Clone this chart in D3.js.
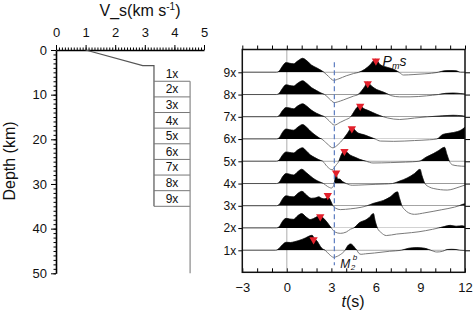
<!DOCTYPE html>
<html><head><meta charset="utf-8">
<script src="https://cdn.jsdelivr.net/npm/d3@7"></script>
<style>body{margin:0;background:#fff}svg{display:block}text{font-family:"Liberation Sans",Arial,sans-serif;fill:#111}</style>
</head><body><svg id="c" width="474" height="327"></svg>
<script>
// ---------- data ----------
const vsTicks = [0,1,2,3,4,5];
const depthTicks = [0,10,20,30,40,50];
const profileVs = [1.0, 2.93, 3.31, 3.31];
const profileDepth = [0, 3.5, 3.5, 35];
const mohoDepths = [7,10.5,14,17.5,21,24.5,28,31.5,35];
const boxLabels = ["1x","2x","3x","4x","5x","6x","7x","8x","9x"];
const mantleVs = 4.53;
const maxDepth = 50;

const tTicks = [-3,0,3,6,9,12];
const traceLabels = ["1x","2x","3x","4x","5x","6x","7x","8x","9x"];
const markerT   = [1.8,2.25,2.76,3.32,3.88,4.38,4.94,5.45,6.0];
const markerAmp = [10.7,11.3,10.3,10.6,10.0,10.4,10.7,11.0,11.3];
const dashT = 3.2;

// waveform samples [t (s), amplitude]
const trace1x = [[-3,0],[-0.75,0],[-0.55,1.5],[-0.3,5.5],[-0.05,8],[0.25,7.8],[0.5,8.5],[0.8,9.7],[1.25,12.3],[1.55,14.5],[1.7,15],[1.85,12],[2.05,9],[2.25,4],[2.4,1.5],[2.58,0],[2.85,-4],[3.15,-7],[3.4,-6],[3.6,-4.3],[3.92,0],[4.1,4.5],[4.3,6.3],[4.5,4],[4.62,1.7],[4.72,0],[4.85,-3],[5.0,-4],[5.3,-3.5],[5.9,-2.7],[6.9,-1],[7.7,0],[8.2,2],[8.75,2.7],[9.3,2],[9.7,0],[10.1,-1.7],[10.5,-1],[10.8,0.8],[11.1,1],[11.4,0.8],[11.65,0],[12,-0.3]];
const trace2x = [[-3,0],[-0.7,0],[-0.5,1.5],[-0.3,6.5],[-0.05,9.7],[0.2,9],[0.45,8.7],[0.75,12.5],[1.0,14.5],[1.3,11],[1.57,8.5],[1.8,9.5],[2.05,11.5],[2.25,12.5],[2.45,10],[2.7,6],[2.85,3],[3.0,0],[3.25,-4],[3.6,-5.3],[4.0,-4],[4.3,-1],[4.5,0],[4.9,5.5],[5.3,8],[5.55,10.5],[5.83,14.5],[5.95,7],[6.1,0],[6.35,-4.5],[6.7,-7.5],[7.4,-6],[7.9,-5.3],[8.9,-3.7],[9.8,-1.3],[10.2,0],[10.6,1.5],[11.0,2.7],[11.4,1.8],[11.8,2.3],[12,1.5]];
const trace3x = [[-3,0],[-0.7,0],[-0.5,1.5],[-0.3,6.5],[-0.05,10],[0.2,9.3],[0.45,9],[0.75,12.5],[1.02,14.5],[1.3,11],[1.65,7.5],[1.9,7.8],[2.15,9],[2.35,7.5],[2.55,7],[2.8,8.5],[2.95,5],[3.1,0],[3.3,-2.5],[3.6,-3.8],[4.3,-3],[5.0,-1.5],[5.4,0],[5.8,2.3],[6.5,5.3],[6.95,8.7],[7.45,14],[7.6,7],[7.75,0],[7.95,-4],[8.2,-7],[8.6,-8.5],[9.3,-7],[10.4,-4],[11.3,-1.3],[11.6,0],[11.85,1.5],[12,2]];
const trace4x = [[-3,0],[-0.7,0],[-0.5,1.5],[-0.3,6.5],[-0.05,10],[0.2,9.3],[0.45,8.5],[0.75,12],[1.0,14.3],[1.3,11],[1.6,7.3],[1.9,4],[2.2,1.7],[2.47,0],[2.75,-3],[3.0,-4.5],[3.15,-2],[3.33,9],[3.42,4.5],[3.55,4.5],[3.75,2],[4.0,0],[4.4,-1.7],[5.2,-1.3],[6.0,-0.8],[6.6,-0.5],[7.1,0],[7.6,2.5],[8.1,5.5],[8.6,10],[8.97,14.3],[9.1,8],[9.3,0],[9.6,-3.5],[9.9,-5],[10.8,-6.5],[11.6,-3.5],[12,-1.5]];
const trace5x = [[-3,0],[-0.7,0],[-0.5,1.5],[-0.3,6],[-0.05,9.3],[0.2,8.8],[0.45,8.3],[0.75,11.5],[1.05,13.5],[1.3,10.5],[1.57,6.5],[1.85,4],[2.1,2],[2.25,1],[2.42,0],[2.7,-5],[3.05,-8.5],[3.3,-4],[3.5,0],[3.65,6],[3.9,10.5],[4.25,6.3],[4.6,4],[4.9,2],[5.35,0],[5.8,-1.7],[7,-1.3],[8,-0.8],[8.9,0],[9.4,4.3],[9.87,7.7],[10.2,10.5],[10.62,14],[10.78,7],[10.95,0],[11.15,-3.5],[11.5,-4.5],[12,-5]];
const trace6x = [[-3,0],[-0.7,0],[-0.5,1.5],[-0.3,6.5],[-0.05,10],[0.2,9.3],[0.45,8.8],[0.75,12],[1.06,14.5],[1.35,11.5],[1.65,7],[2.0,3],[2.2,1],[2.35,0],[2.7,-4.5],[3.1,-8.8],[3.45,-5.5],[3.8,0],[4.05,5],[4.38,11],[4.8,6],[5.2,4.3],[5.6,2],[5.95,0],[6.3,-2],[7.2,-2.3],[8.6,-1.5],[9.6,-0.7],[10.1,0],[10.5,4.5],[11.0,6],[11.5,7.5],[11.8,9.5],[12,12]];
const trace7x = [[-3,0],[-0.7,0],[-0.5,1.5],[-0.3,6],[-0.05,9.3],[0.2,8.8],[0.45,8],[0.75,11],[1.06,13],[1.35,10.5],[1.65,6.7],[2.0,3.5],[2.3,1.5],[2.55,0],[2.85,-4],[3.2,-8.3],[3.6,-5.5],[3.95,-3],[4.3,0],[4.5,4.5],[4.65,8],[4.92,11],[5.2,8],[5.45,6.5],[6.05,2.5],[6.5,0],[6.8,-1.2],[7.6,-2.7],[8.6,-1.2],[9.5,0],[10.5,1],[11.2,1.5],[11.8,1],[12,0.5]];
const trace8x = [[-3,0],[-0.7,0],[-0.5,1.5],[-0.3,6],[-0.05,9.8],[0.2,9],[0.45,8.5],[0.75,11.5],[1.06,13.8],[1.35,11],[1.65,7],[2.0,4],[2.3,1.5],[2.55,0],[2.85,-4],[3.2,-8],[3.6,-6.5],[4.05,-4],[4.5,-1.5],[4.8,0],[5.05,4],[5.25,8],[5.42,12.3],[5.7,8.5],[6.05,5],[6.5,2.5],[6.8,0.5],[7.0,-1],[7.6,-2.3],[8.3,-2.3],[9.4,-1.3],[10.2,0],[10.7,1.2],[11.2,1.5],[11.7,1],[12,0.5]];
const trace9x = [[-3,0],[-0.7,0],[-0.5,1.5],[-0.3,6],[-0.05,9.7],[0.2,9],[0.45,8.5],[0.75,11.5],[1.06,14],[1.35,11.5],[1.65,7.3],[2.0,4.5],[2.3,2],[2.5,0],[2.8,-4],[3.15,-8],[3.5,-6.5],[4.0,-3.5],[4.5,-1.2],[4.85,0],[5.25,3],[5.6,7.3],[5.97,13],[6.3,7.5],[6.8,4.8],[7.3,2.3],[7.6,-0.5],[7.85,-2.7],[8.5,-2.3],[9.3,-1.5],[10.2,0],[10.6,1.5],[11.0,1.8],[11.4,1.5],[11.7,0],[12,0]];
const traces = [trace1x,trace2x,trace3x,trace4x,trace5x,trace6x,trace7x,trace8x,trace9x];

// ---------- drawing ----------
const svg = d3.select("#c");

// Left panel: velocity profile
const xV = d3.scaleLinear([0,5],[56,204]);
const yD = d3.scaleLinear([0,maxDepth],[50,273.3]);

const L = svg.append("g");
L.append("g").attr("transform","translate(0,50)")
  .call(d3.axisTop(xV).tickValues(d3.range(0,5.001,0.1)).tickSize(2.5).tickFormat(""))
  .call(g=>g.select(".domain").remove());
L.append("g").attr("transform","translate(0,50)")
  .call(d3.axisTop(xV).tickValues(vsTicks).tickSize(5).tickSizeOuter(0).tickPadding(8).tickFormat(d3.format("d")))
  .call(g=>g.selectAll("text").attr("font-size",13).attr("font-family",null))
  .call(g=>g.select(".domain").attr("stroke-width",1.6));
L.append("g").attr("transform","translate(56,0)")
  .call(d3.axisLeft(yD).tickValues(d3.range(0,50.001,1)).tickSize(2.5).tickFormat(""))
  .call(g=>g.select(".domain").remove());
L.append("g").attr("transform","translate(56,0)")
  .call(d3.axisLeft(yD).tickValues(depthTicks).tickSize(5).tickSizeOuter(0).tickPadding(4).tickFormat(d3.format("d")))
  .call(g=>g.selectAll("text").attr("font-size",13).attr("font-family",null))
  .call(g=>g.select(".domain").attr("stroke-width",1.6));

const title = L.append("text").attr("x",140).attr("y",16).attr("text-anchor","middle").attr("font-size",16);
title.append("tspan").text("V_s(km s");
title.append("tspan").attr("font-size",10).attr("dy",-6).text("-1");
title.append("tspan").attr("dy",6).text(")");

L.append("text").attr("transform","translate(15,161) rotate(-90)").attr("text-anchor","middle")
  .attr("font-size",16).text("Depth (km)");

const prof = profileVs.map((v,i)=>[v,profileDepth[i]]);
L.append("path").attr("d", d3.line().x(d=>xV(d[0])).y(d=>yD(d[1]))(prof))
  .attr("fill","none").attr("stroke","#555").attr("stroke-width",1.2);
L.selectAll("line.moho").data(mohoDepths).join("line").attr("class","moho")
  .attr("x1",xV(profileVs[3])).attr("x2",xV(mantleVs))
  .attr("y1",d=>yD(d)).attr("y2",d=>yD(d))
  .attr("stroke","#777").attr("stroke-width",1);
L.append("line").attr("x1",xV(mantleVs)).attr("x2",xV(mantleVs))
  .attr("y1",yD(mohoDepths[0])).attr("y2",yD(maxDepth))
  .attr("stroke","#888").attr("stroke-width",1.2);
L.selectAll("text.box").data(boxLabels).join("text").attr("class","box")
  .attr("x",xV((profileVs[3]+mantleVs)/2)).attr("y",(d,i)=>yD(mohoDepths[i]-1.75)+4.2)
  .attr("text-anchor","middle").attr("font-size",12).text(d=>d);

// Right panel: waveforms
const fL=242.3, fR=465, fT=49.5, fB=272.3;
const xT = d3.scaleLinear([-3,12],[fL,fR]);
const yB = d3.scaleLinear([1,9],[250.3,72.3]);
const amp = d3.scaleLinear([0,10],[0,10]);

const R = svg.append("g");
const defs = svg.append("defs");
defs.append("clipPath").attr("id","frame").append("rect")
  .attr("x",fL).attr("y",fT).attr("width",fR-fL).attr("height",fB-fT);
traces.forEach((tr,i)=>{
  defs.append("clipPath").attr("id","pos"+i).append("rect")
    .attr("x",fL).attr("y",fT).attr("width",fR-fL).attr("height",yB(i+1)-fT);
});

R.append("g").attr("transform",`translate(0,${fT})`)
  .call(d3.axisTop(xT).tickValues(d3.range(-3,12.001,1)).tickSize(4).tickFormat(""))
  .call(g=>g.select(".domain").remove());
R.append("g").attr("transform",`translate(0,${fB})`)
  .call(d3.axisBottom(xT).tickValues(d3.range(-3,12.001,1)).tickSizeInner(-4).tickSizeOuter(0).tickFormat(""))
  .call(g=>g.select(".domain").remove());
R.append("g").attr("transform",`translate(0,${fB})`)
  .call(d3.axisBottom(xT).tickValues(tTicks).tickSize(0).tickPadding(10))
  .call(g=>g.selectAll("text").attr("font-size",13).attr("font-family",null))
  .call(g=>g.select(".domain").remove());
R.append("g").attr("transform",`translate(${fL},0)`)
  .call(d3.axisLeft(yB).tickValues(d3.range(1,10)).tickSize(4).tickPadding(2).tickFormat(d=>d+"x"))
  .call(g=>g.selectAll("text").attr("font-size",12).attr("font-family",null))
  .call(g=>g.select(".domain").remove());
R.append("g").attr("transform",`translate(${fR},0)`)
  .call(d3.axisRight(yB).tickValues(d3.range(1,10)).tickSize(5).tickFormat(""))
  .call(g=>g.select(".domain").remove());

const plot = R.append("g").attr("clip-path","url(#frame)");
plot.append("line").attr("x1",xT(0)).attr("x2",xT(0)).attr("y1",fT).attr("y2",fB)
  .attr("stroke","#999").attr("stroke-width",0.8);

traces.forEach((tr,i)=>{
  const base = yB(i+1);
  const line = d3.line().x(d=>xT(d[0])).y(d=>base-amp(d[1])).curve(d3.curveMonotoneX);
  const area = d3.area().x(d=>xT(d[0])).y0(base).y1(d=>base-amp(d[1])).curve(d3.curveMonotoneX);
  plot.append("path").attr("d",line(tr)).attr("fill","none").attr("stroke","#7a7a7a").attr("stroke-width",1);
  plot.append("path").attr("d",area(tr)).attr("clip-path",`url(#pos${i})`)
    .attr("fill","#000").attr("stroke","#000").attr("stroke-width",0.4);
});

plot.append("line").attr("x1",xT(dashT)).attr("x2",xT(dashT))
  .attr("y1",yB(9)-10).attr("y2",yB(1)+15)
  .attr("stroke","#5b7cc0").attr("stroke-width",1.2).attr("stroke-dasharray","5,3");

plot.selectAll("path.mk").data(markerT).join("path").attr("class","mk")
  .attr("d",d3.symbol(d3.symbolTriangle,30)())
  .attr("transform",(d,i)=>`translate(${xT(d)},${yB(i+1)-amp(markerAmp[i])}) rotate(180)`)
  .attr("fill","#e3202b");

R.append("rect").attr("x",fL).attr("y",fT).attr("width",fR-fL).attr("height",fB-fT)
  .attr("fill","none").attr("stroke","#111").attr("stroke-width",1.5);

// annotations
const pms = R.append("text").attr("x",xT(6.45)).attr("y",yB(9)-6).attr("font-size",14).attr("font-style","italic");
pms.append("tspan").text("P");
pms.append("tspan").attr("font-size",9).attr("dy",3).text("m");
pms.append("tspan").attr("dy",-3).text("s");

const mx = xT(3.6), my = yB(1)+17.5;
R.append("text").attr("x",mx).attr("y",my).attr("font-size",12).attr("font-style","italic").text("M");
R.append("text").attr("x",mx+10.5).attr("y",my+2).attr("font-size",8).attr("font-style","italic").text("2");
R.append("text").attr("x",mx+12.5).attr("y",my-8).attr("font-size",8).attr("font-style","italic").text("b");

const tl = R.append("text").attr("x",353).attr("y",307).attr("text-anchor","middle").attr("font-size",16);
tl.append("tspan").attr("font-style","italic").text("t");
tl.append("tspan").text("(s)");
</script></body></html>
